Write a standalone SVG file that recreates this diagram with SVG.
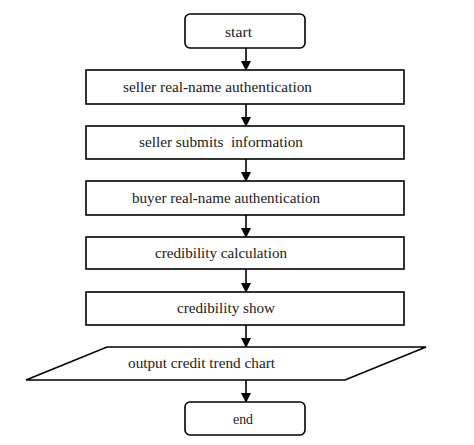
<svg xmlns="http://www.w3.org/2000/svg" width="474" height="445" viewBox="0 0 474 445">
<defs>
<marker id="ah" markerWidth="10" markerHeight="10" refX="9" refY="5" orient="auto" markerUnits="userSpaceOnUse">
<path d="M0,0 L10,5 L0,10 Z" fill="#000"/>
</marker>
<style>
.box{fill:#fff;stroke:#000;stroke-width:1.6}
.t{font-size:14px;fill:#1a1a1a}
.c{stroke:#000;stroke-width:1.6;fill:none;marker-end:url(#ah)}
</style>
</defs>
<rect width="474" height="445" fill="#fff"/>
<g id="connectors">
<line class="c" x1="246" y1="48" x2="246" y2="70"/>
<line class="c" x1="246" y1="104" x2="246" y2="126"/>
<line class="c" x1="246" y1="159" x2="246" y2="181"/>
<line class="c" x1="246" y1="215" x2="246" y2="237"/>
<line class="c" x1="246" y1="269" x2="246" y2="292"/>
<line class="c" x1="246" y1="325" x2="246" y2="347"/>
<line class="c" x1="246" y1="380" x2="246" y2="402"/>
</g>
<g font-family="Liberation Serif, DejaVu Serif, serif">
<g id="start">
<rect class="box" x="185" y="14" width="120" height="34" rx="5"/>
<text class="t" x="225" y="37" textLength="27" lengthAdjust="spacingAndGlyphs">start</text>
</g>
<g id="n1">
<rect class="box" x="86" y="70" width="318" height="34"/>
<text class="t" x="123" y="92" textLength="189" lengthAdjust="spacingAndGlyphs">seller real-name authentication</text>
</g>
<g id="n2">
<rect class="box" x="86" y="126" width="318" height="33"/>
<text class="t" x="139" y="147" xml:space="preserve" textLength="164" lengthAdjust="spacingAndGlyphs">seller submits  information</text>
</g>
<g id="n3">
<rect class="box" x="86" y="181" width="318" height="34"/>
<text class="t" x="132" y="203" textLength="188" lengthAdjust="spacingAndGlyphs">buyer real-name authentication</text>
</g>
<g id="n4">
<rect class="box" x="86" y="237" width="318" height="32"/>
<text class="t" x="155" y="258" textLength="132" lengthAdjust="spacingAndGlyphs">credibility calculation</text>
</g>
<g id="n5">
<rect class="box" x="86" y="292" width="318" height="33"/>
<text class="t" x="177" y="313" textLength="98" lengthAdjust="spacingAndGlyphs">credibility show</text>
</g>
<g id="output">
<polygon class="box" points="107,347 426,347 345,380 26,380"/>
<text class="t" x="128" y="368" textLength="147" lengthAdjust="spacingAndGlyphs">output credit trend chart</text>
</g>
<g id="end">
<rect class="box" x="185" y="402" width="120" height="33" rx="5"/>
<text class="t" x="233" y="424" textLength="20" lengthAdjust="spacingAndGlyphs">end</text>
</g>
</g>
</svg>
